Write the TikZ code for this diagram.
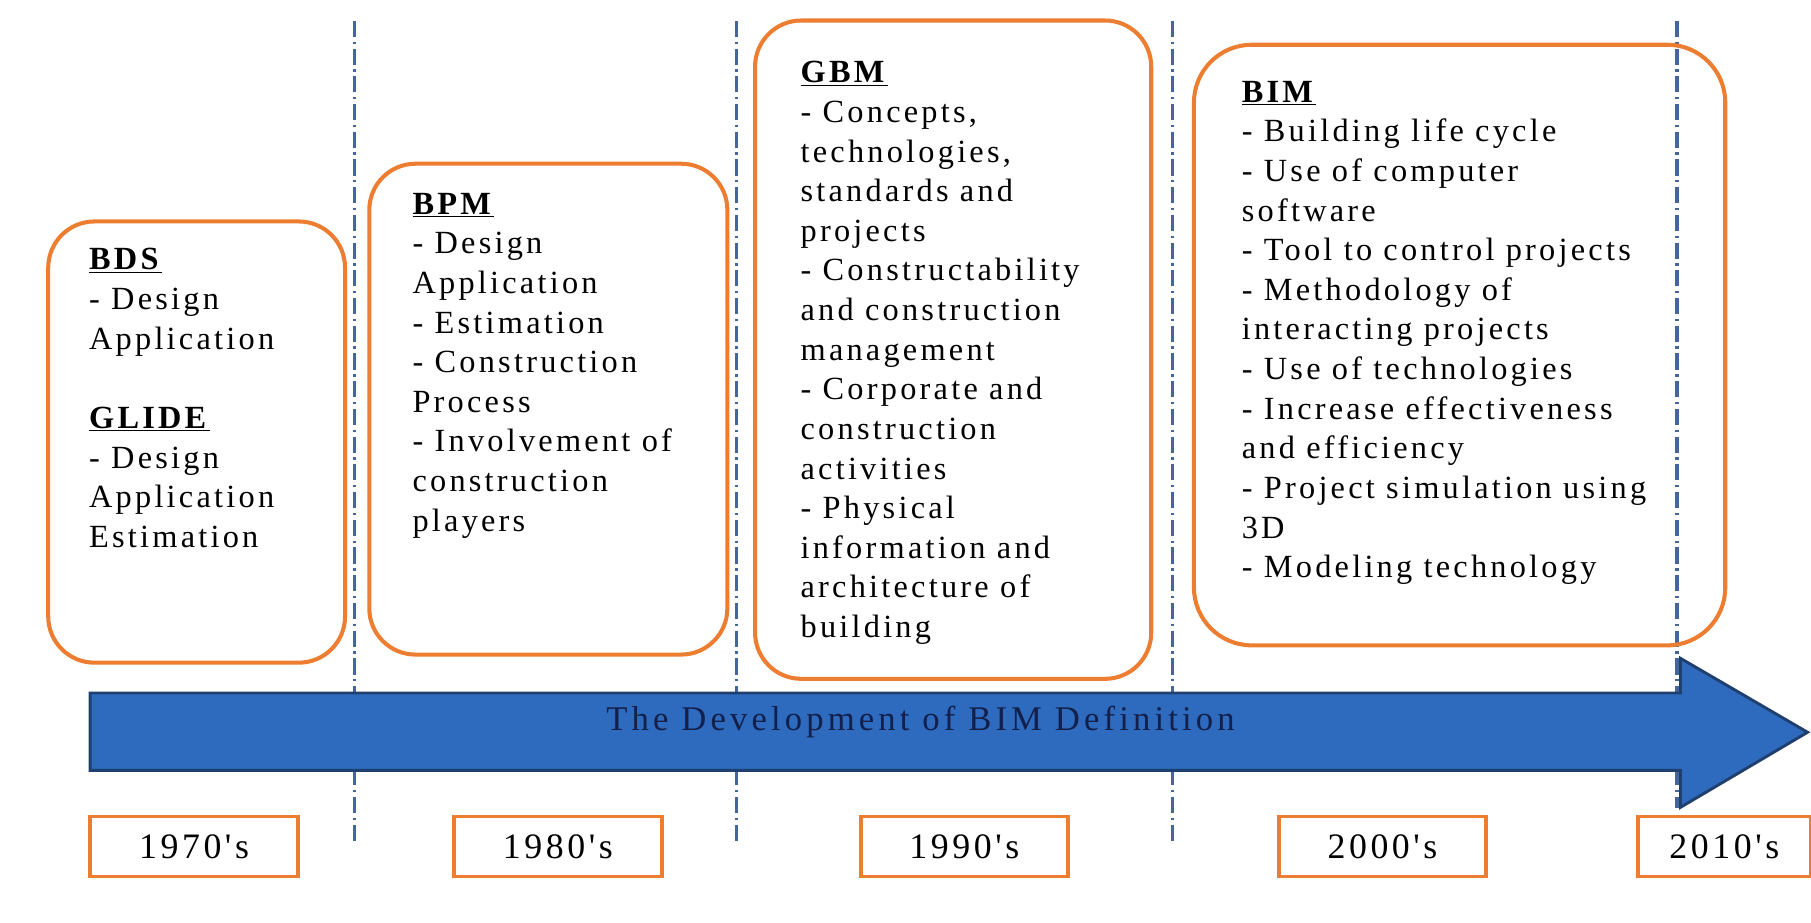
\documentclass[tikz,border=0pt]{standalone}
\usepackage{fontspec}
\setmainfont{Liberation Serif}
\newfontfamily\boxfont[LetterSpace=10]{Liberation Serif}
\newfontfamily\titlefont[LetterSpace=12]{Liberation Serif}
\newfontfamily\yearfont[LetterSpace=10]{Liberation Serif}
\definecolor{boxorange}{RGB}{237,125,49}
\definecolor{sepblue}{RGB}{68,102,156}
\definecolor{arrowblue}{RGB}{46,107,190}
\definecolor{arrowedge}{RGB}{31,63,110}
\definecolor{titleblue}{RGB}{18,32,75}
\begin{document}
\begin{tikzpicture}[x=1pt,y=-1pt,
    periodbox/.style={draw=boxorange,line width=3.5pt,rounded corners=40pt,
      inner sep=0pt,anchor=north west},
    itemtext/.style={anchor=north west,inner sep=0pt,align=left,
      font=\boxfont\fontsize{28}{34.3}\selectfont},
    yearbox/.style={draw=boxorange,line width=3pt,minimum height=52pt,
      inner sep=0pt,font=\yearfont\fontsize{31}{34}\selectfont},
    sepline/.style={sepblue,line width=2.7pt,
      dash pattern=on 14pt off 4pt on 2pt off 4pt}]
  \useasboundingbox (0,0) rectangle (1568,799);
  % separators
  \draw[sepline] (307,18) -- (307,730);
  \draw[sepline] (638,18) -- (638,730);
  \draw[sepline] (1015,18) -- (1015,730);
  \draw[sepline] (1452,18) -- (1452,700);
  % timeline arrow
  \draw[arrowedge,fill=arrowblue,line width=2.5pt,line join=miter]
    (78,600) -- (1455,600) -- (1455,570) -- (1565,634)
    -- (1455,699) -- (1455,667) -- (78,667) -- cycle;
  \node[text=titleblue,font=\titlefont\fontsize{30}{34}\selectfont] (title)
    at (797,625) {The Development of BIM Definition};
  % periods
  \node[periodbox,minimum width=257pt,minimum height=382pt] (bdsbox) at (40,190) {};
  \node[periodbox,minimum width=310pt,minimum height=425pt] (bpmbox) at (318,140) {};
  \node[periodbox,minimum width=343pt,minimum height=570pt] (gbmbox) at (652,16) {};
  \node[periodbox,minimum width=460pt,minimum height=520pt,rounded corners=50pt]
    (bimbox) at (1032,37) {};
  \node[itemtext] (bds) at (77,215) {\underline{\textbf{BDS}}\\- Design\\Application\\[34.3pt]
    \underline{\textbf{GLIDE}}\\- Design\\Application\\Estimation};
  \node[itemtext] (bpm) at (357,167) {\underline{\textbf{BPM}}\\- Design\\Application\\- Estimation\\
    - Construction\\Process\\- Involvement of\\construction\\players};
  \node[itemtext] (gbm) at (693,53) {\underline{\textbf{GBM}}\\- Concepts,\\technologies,\\
    standards and\\projects\\- Constructability\\and construction\\management\\
    - Corporate and\\construction\\activities\\- Physical\\information and\\
    architecture of\\building};
  \node[itemtext] (bim) at (1075,70) {\underline{\textbf{BIM}}\\- Building life cycle\\
    - Use of computer\\software\\- Tool to control projects\\- Methodology of\\
    interacting projects\\- Use of technologies\\- Increase effectiveness\\
    and efficiency\\- Project simulation using\\3D\\- Modeling technology};
  % decades
  \node[yearbox,minimum width=180pt] (y70) at (168,733) {1970's};
  \node[yearbox,minimum width=180pt] (y80) at (483,733) {1980's};
  \node[yearbox,minimum width=179pt] (y90) at (835,733) {1990's};
  \node[yearbox,minimum width=179pt] (y00) at (1197,733) {2000's};
  \node[yearbox,minimum width=150pt] (y10) at (1493,733) {2010's};
\end{tikzpicture}
\end{document}
